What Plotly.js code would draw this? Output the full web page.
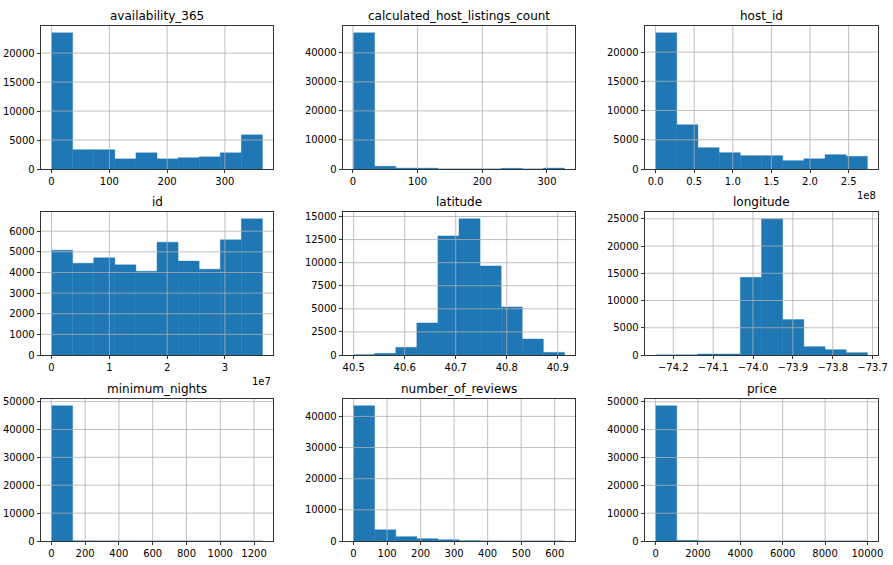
<!DOCTYPE html>
<html>
<head>
<meta charset="utf-8">
<script src="https://cdn.plot.ly/plotly-3.0.1.min.js"></script>
<style>html,body{margin:0;padding:0;background:#fff;}#chart{width:893px;height:565px;}</style>
</head>
<body>
<div id="chart"></div>
<script>
// ---- Data ----
const columnNames = ['availability_365','calculated_host_listings_count','host_id','id','latitude','longitude','minimum_nights','number_of_reviews','price'];

// data min / max of each column (histogram spans these with 10 equal bins)
const availabilityRange = [0, 365];
const hostListingsRange = [1, 327];
const hostIdRange = [2438, 274321313];
const idRange = [2539, 36487245];
const latitudeRange = [40.49979, 40.91306];
const longitudeRange = [-74.24442, -73.71299];
const minimumNightsRange = [1, 1250];
const reviewsRange = [0, 629];
const priceRange = [0, 10000];

// bin counts (10 bins each)
const availabilityCounts = [23500, 3330, 3330, 1750, 2800, 1750, 1950, 2100, 2800, 5900];
const hostListingsCounts = [46900, 950, 300, 300, 0, 0, 0, 232, 0, 327];
const hostIdCounts = [23300, 7580, 3650, 2790, 2280, 2280, 1430, 1750, 2450, 2170];
const idCounts = [5080, 4450, 4710, 4370, 4060, 5470, 4550, 4160, 5580, 6600];
const latitudeCounts = [30, 180, 830, 3470, 12900, 14750, 9650, 5200, 1735, 290];
const longitudeCounts = [10, 20, 180, 180, 14250, 25000, 6510, 1535, 980, 430];
const minimumNightsCounts = [48500, 60, 25, 15, 8, 4, 2, 1, 3, 3];
const reviewsCounts = [43400, 3600, 1380, 740, 420, 100, 30, 10, 5, 2];
const priceCounts = [48580, 240, 30, 15, 5, 10, 3, 1, 3, 8];

// tick labels
const availabilityXTicks = [0, 100, 200, 300];
const hostListingsXTicks = [0, 100, 200, 300];
const hostIdXTicks = [0, 0.5e8, 1e8, 1.5e8, 2e8, 2.5e8];
const hostIdXText = ['0.0','0.5','1.0','1.5','2.0','2.5'];
const idXTicks = [0, 1e7, 2e7, 3e7];
const idXText = ['0','1','2','3'];
const latitudeXTicks = [40.5, 40.6, 40.7, 40.8, 40.9];
const latitudeXText = ['40.5','40.6','40.7','40.8','40.9'];
const longitudeXTicks = [-74.2, -74.1, -74.0, -73.9, -73.8, -73.7];
const longitudeXText = ['\u221274.2','\u221274.1','\u221274.0','\u221273.9','\u221273.8','\u221273.7'];
const minimumNightsXTicks = [0, 200, 400, 600, 800, 1000, 1200];
const reviewsXTicks = [0, 100, 200, 300, 400, 500, 600];
const priceXTicks = [0, 2000, 4000, 6000, 8000, 10000];

const availabilityYTicks = [0, 5000, 10000, 15000, 20000];
const hostListingsYTicks = [0, 10000, 20000, 30000, 40000];
const hostIdYTicks = [0, 5000, 10000, 15000, 20000];
const idYTicks = [0, 1000, 2000, 3000, 4000, 5000, 6000];
const latitudeYTicks = [0, 2500, 5000, 7500, 10000, 12500, 15000];
const longitudeYTicks = [0, 5000, 10000, 15000, 20000, 25000];
const minimumNightsYTicks = [0, 10000, 20000, 30000, 40000, 50000];
const reviewsYTicks = [0, 10000, 20000, 30000, 40000];
const priceYTicks = [0, 10000, 20000, 30000, 40000, 50000];

const offsetTexts = [null, null, '1e8', '1e7', null, null, null, null, null];

// ---- Assemble ----
const panels = [
  {r: availabilityRange, c: availabilityCounts, xt: availabilityXTicks, xtt: null, yt: availabilityYTicks},
  {r: hostListingsRange, c: hostListingsCounts, xt: hostListingsXTicks, xtt: null, yt: hostListingsYTicks},
  {r: hostIdRange, c: hostIdCounts, xt: hostIdXTicks, xtt: hostIdXText, yt: hostIdYTicks},
  {r: idRange, c: idCounts, xt: idXTicks, xtt: idXText, yt: idYTicks},
  {r: latitudeRange, c: latitudeCounts, xt: latitudeXTicks, xtt: latitudeXText, yt: latitudeYTicks},
  {r: longitudeRange, c: longitudeCounts, xt: longitudeXTicks, xtt: longitudeXText, yt: longitudeYTicks},
  {r: minimumNightsRange, c: minimumNightsCounts, xt: minimumNightsXTicks, xtt: null, yt: minimumNightsYTicks},
  {r: reviewsRange, c: reviewsCounts, xt: reviewsXTicks, xtt: null, yt: reviewsYTicks},
  {r: priceRange, c: priceCounts, xt: priceXTicks, xtt: null, yt: priceYTicks}
];

const W = 893, H = 565;
const colPx = [[41, 273], [343, 575], [645, 878]];
const rowPx = [[26, 169], [212, 355], [399, 541]];

const FONT = 'DejaVu Sans, Liberation Sans, sans-serif';
const BAR = '#1f77b4';
const GRID = '#b0b0b0';

const traces = [];
const layout = {
  width: W, height: H,
  margin: {l: 0, r: 0, t: 0, b: 0, pad: 0},
  paper_bgcolor: '#ffffff', plot_bgcolor: '#ffffff',
  showlegend: false,
  font: {family: FONT, size: 10, color: '#000'},
  annotations: [], shapes: []
};

panels.forEach((p, i) => {
  const n = i + 1;
  const xa = n === 1 ? 'x' : 'x' + n;
  const ya = n === 1 ? 'y' : 'y' + n;
  const row = Math.floor(i / 3), col = i % 3;
  const lo = p.r[0], hi = p.r[1];
  const nb = p.c.length;
  const bw = (hi - lo) / nb;
  const centers = p.c.map((_, k) => lo + bw * (k + 0.5));
  traces.push({
    type: 'bar', x: centers, y: p.c, width: p.c.map(() => bw),
    xaxis: xa, yaxis: ya,
    marker: {color: BAR, line: {width: 0.4, color: BAR}},
    hoverinfo: 'skip'
  });
  const span = hi - lo;
  const xr = [lo - 0.05 * span, hi + 0.05 * span];
  const yr = [0, Math.max.apply(null, p.c) * 1.05];
  const xd = [colPx[col][0] / W, colPx[col][1] / W];
  const yd = [1 - rowPx[row][1] / H, 1 - rowPx[row][0] / H];
  const common = {
    showline: true, mirror: true, linecolor: '#000', linewidth: 0.8,
    ticks: 'outside', ticklen: 3.5, tickwidth: 0.8, tickcolor: '#000',
    showgrid: false, zeroline: false, layer: 'above traces',
    tickfont: {family: FONT, size: 10, color: '#000'},
    fixedrange: true
  };
  const xName = n === 1 ? 'xaxis' : 'xaxis' + n;
  const yName = n === 1 ? 'yaxis' : 'yaxis' + n;
  layout[xName] = Object.assign({}, common, {
    domain: xd, range: xr, anchor: ya,
    tickmode: 'array', tickvals: p.xt,
    ticktext: p.xtt ? p.xtt : p.xt.map(v => String(v))
  });
  layout[yName] = Object.assign({}, common, {
    domain: yd, range: yr, anchor: xa,
    tickmode: 'array', tickvals: p.yt,
    ticktext: p.yt.map(v => String(v))
  });
  // grid lines drawn above the bars, as in matplotlib
  p.xt.forEach(v => {
    layout.shapes.push({type: 'line', layer: 'above', xref: xa, yref: ya + ' domain',
      x0: v, x1: v, y0: 0, y1: 1, line: {color: GRID, width: 0.8}});
  });
  p.yt.forEach(v => {
    if (v === 0) return;
    layout.shapes.push({type: 'line', layer: 'above', xref: xa + ' domain', yref: ya,
      x0: 0, x1: 1, y0: v, y1: v, line: {color: GRID, width: 0.8}});
  });
  // subplot title
  layout.annotations.push({
    text: columnNames[i], xref: 'paper', yref: 'paper',
    x: (xd[0] + xd[1]) / 2, y: yd[1], xanchor: 'center', yanchor: 'bottom',
    yshift: 1, showarrow: false, font: {family: FONT, size: 12, color: '#000'}
  });
  if (offsetTexts[i]) {
    layout.annotations.push({
      text: offsetTexts[i], xref: 'paper', yref: 'paper',
      x: xd[1], y: yd[0], xanchor: 'right', yanchor: 'top',
      yshift: -19, showarrow: false, font: {family: FONT, size: 10, color: '#000'}
    });
  }
});

Plotly.newPlot('chart', traces, layout, {displayModeBar: false, staticPlot: true});
</script>
</body>
</html>
